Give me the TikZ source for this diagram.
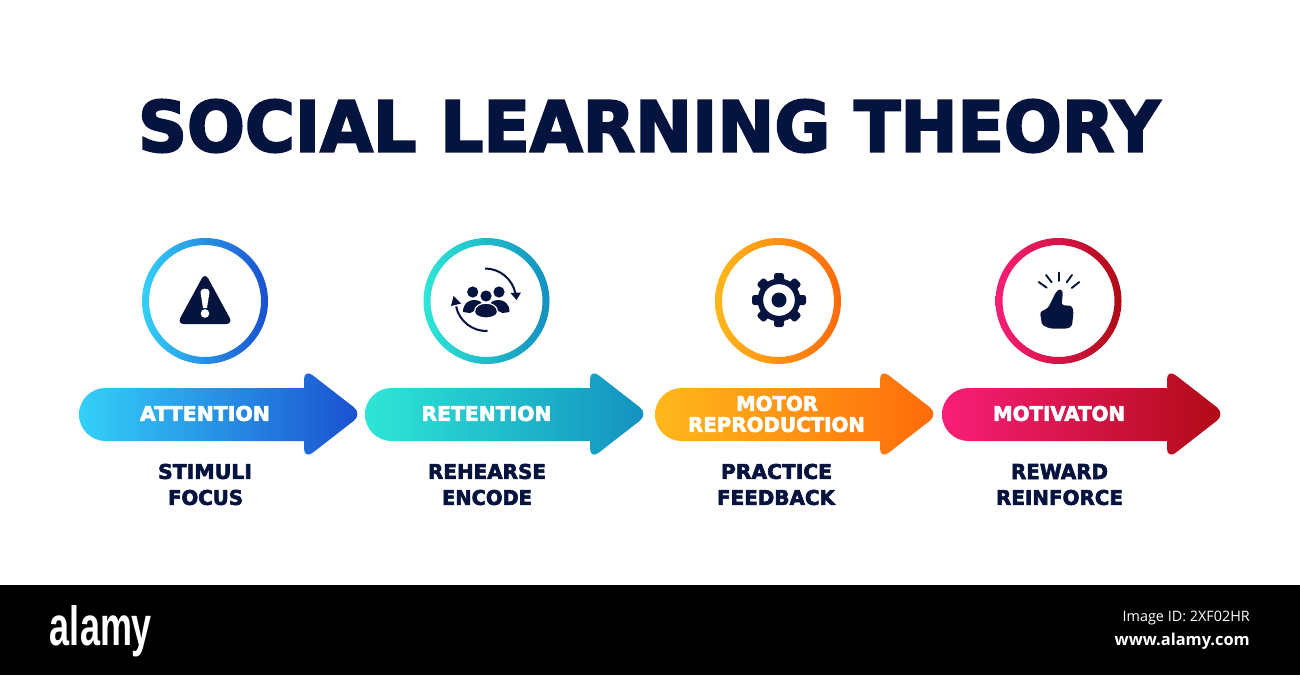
\documentclass[tikz,border=0pt]{standalone}
\usepackage{fontspec}
\setmainfont{Liberation Sans}
\newfontfamily\heavy{DejaVu Sans}[BoldFont={DejaVu Sans Bold},BoldFeatures={FakeBold=3}]
\newfontfamily\foot{Open Sans}
\definecolor{navy}{HTML}{05133F}
\definecolor{aL}{HTML}{34D0F8}\definecolor{aR}{HTML}{1A4FD0}
\definecolor{bL}{HTML}{2EE6D6}\definecolor{bR}{HTML}{1390C0}
\definecolor{cL}{HTML}{FFB81C}\definecolor{cR}{HTML}{FF6A0A}
\definecolor{dL}{HTML}{F81E78}\definecolor{dR}{HTML}{B00A14}
\newcommand{\fitw}[2]{\resizebox{#1pt}{15pt}{\heavy\bfseries #2}}
\tikzset{
  arrowlabel/.style={text=white,align=center,inner sep=0pt},
  sublabel/.style={text=navy,align=center,inner sep=0pt},
  icon/.style={fill=navy,draw=none},
  ray/.style={draw=navy,line width=1.9pt,line cap=round},
  loop/.style={draw=navy,line width=2pt},
}
\newcommand{\gradring}[3]{\shade[even odd rule,left color=#2,right color=#3] (#1,301) circle (63) (#1,301) circle (56);}
\newcommand{\gradarrow}[3]{%
  \shade[left color=#2,right color=#3]
    (#1+26.5,388) [rounded corners=0pt] -- (#1+225,388)
    [rounded corners=11pt] -- (#1+225,368.5) -- (#1+283.5,414) -- (#1+225,459.5)
    [rounded corners=0pt] -- (#1+225,441) -- (#1+26.5,441)
    arc[start angle=90,end angle=270,radius=26.5] -- cycle;}
\begin{document}
\begin{tikzpicture}[x=1pt,y=-1pt]
\useasboundingbox (0,0) rectangle (1300,675);
\fill[white] (0,0) rectangle (1300,675);
\fill[black] (0,585) rectangle (1300,675);
\node[text=navy,inner sep=0pt] (title) at (649,126) {\resizebox{1022pt}{52pt}{\heavy\bfseries SOCIAL LEARNING THEORY}};
% rings
\gradring{205}{aL}{aR}
\gradring{486.5}{bL}{bR}
\gradring{778}{cL}{cR}
\gradring{1058.5}{dL}{dR}
% arrows
\gradarrow{79}{aL}{aR}
\gradarrow{365}{bL}{bR}
\gradarrow{655}{cL}{cR}
\gradarrow{942}{dL}{dR}
\node[arrowlabel] (l1) at (205,413.5) {\fitw{130}{ATTENTION}};
\node[arrowlabel] (l2) at (486.5,413.5) {\fitw{130}{RETENTION}};
\node[arrowlabel] (l3a) at (777,403.5) {\fitw{82}{MOTOR}};
\node[arrowlabel] (l3b) at (776.5,424.5) {\fitw{177}{REPRODUCTION}};
\node[arrowlabel] (l4) at (1059,413.5) {\fitw{132}{MOTIVATON}};
\node[sublabel] (s1a) at (205,471.5) {\fitw{94}{STIMULI}};
\node[sublabel] (s1b) at (205.5,497.5) {\fitw{75}{FOCUS}};
\node[sublabel] (s2a) at (487,471.5) {\fitw{118}{REHEARSE}};
\node[sublabel] (s2b) at (487,497.5) {\fitw{90}{ENCODE}};
\node[sublabel] (s3a) at (776.5,471.5) {\fitw{111}{PRACTICE}};
\node[sublabel] (s3b) at (776,497.5) {\fitw{118}{FEEDBACK}};
\node[sublabel] (s4a) at (1059.5,471.5) {\fitw{97}{REWARD}};
\node[sublabel] (s4b) at (1059.5,497.5) {\fitw{127}{REINFORCE}};
% warning icon
\fill[icon,rounded corners=7pt] (205,272.5) -- (233,324) -- (177,324) -- cycle;
\fill[white] (200.5,292) .. controls (200.5,287.5) and (209.5,287.5) .. (209.5,292) -- (207,308) -- (203,308) -- cycle;
\fill[white] (205,313.5) circle (4.3);
% people icon
\fill[icon] (472.7,292) circle (5.6) (499,292) circle (5.6) (486,296) circle (5.6);
\fill[icon] (463,312) .. controls (463,303) and (469,300) .. (474,300) .. controls (479,300) and (482,302) .. (484,306) -- (470,313) -- cycle;
\fill[icon] (509.5,312) .. controls (509.5,303) and (503.5,300) .. (498.5,300) .. controls (493.5,300) and (490.5,302) .. (488.5,306) -- (502.5,313) -- cycle;
\fill[icon,draw=white,line width=1.2pt] (486,303.2) .. controls (492,303.2) and (497.5,306) .. (497.5,312) .. controls (497.5,316) and (491,318) .. (486,318) .. controls (481,318) and (474.5,316) .. (474.5,312) .. controls (474.5,306) and (480,303.2) .. (486,303.2) -- cycle;
\draw[loop] (485,268.5) arc[start angle=-90,end angle=-12,radius=31];
\fill[icon] (510.5,293) -- (521,292.5) -- (516.5,300) -- cycle;
\draw[loop] (487.5,331) arc[start angle=88,end angle=168,radius=31];
\fill[icon] (451,306) -- (461,303.5) -- (453.5,296) -- cycle;
% gear icon
\fill[icon] (779,300) circle (21.5);
\foreach \a in {0,45,...,315}{
  \fill[icon,rounded corners=2.5pt,rotate around={\a:(779,300)}] (774,273) rectangle (784,285);
}
\fill[white] (779,300) circle (15.8);
\fill[icon] (779,300) circle (7.5);
% thumb icon
\draw[ray] (1059,272.5) -- (1059,281);
\draw[ray] (1046,275) -- (1051.7,282.3);
\draw[ray] (1038.7,282) -- (1046.7,287.7);
\draw[ray] (1072,275) -- (1066.7,282.3);
\draw[ray] (1079.3,282) -- (1071.7,288);
\fill[icon,rounded corners=2.5pt] (1060,288.5) -- (1063,292) -- (1061.5,305) -- (1072,306) -- (1073.5,312) -- (1072,326) -- (1068,328.5) -- (1050,328.5) -- (1042,325) -- (1040,312) -- (1048,308) -- (1056,292) -- cycle;
% footer
\node[text=white,inner sep=0pt,anchor=base] (logo) at (101,645) {\resizebox{102pt}{40pt}{\bfseries alamy}};
\node[text=white,inner sep=0pt,anchor=east] (f1) at (1250,618) {\foot\fontsize{14.4}{16}\selectfont Image ID: 2XF02HR};
\node[text=white,inner sep=0pt,anchor=east] (f2) at (1250,641) {\foot\bfseries\fontsize{16.4}{17}\selectfont www.alamy.com};
\end{tikzpicture}
\end{document}
